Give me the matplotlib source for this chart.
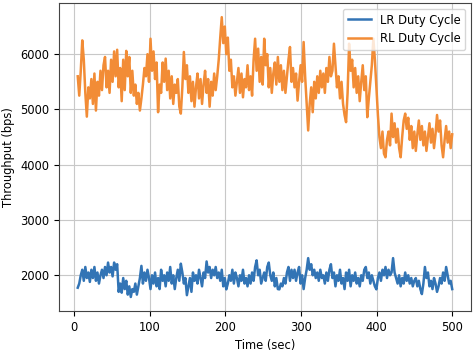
import numpy as np
import matplotlib
matplotlib.use("Agg")
import matplotlib.pyplot as plt

# throughput readings (bps), roughly every 2 seconds from t=5 to t=500
rl_duty = [5600, 5250, 5700, 6250, 5900, 5300, 4870, 5400,
           5200, 5550, 5100, 5650, 4980,
           5500, 5250, 5700, 5350, 5800,
           5950, 5400, 5700, 5300, 5900,
           5500, 6050, 5600, 6080, 5400,
           5750, 5150, 5900, 5350, 6060,
           5600, 5950, 5300, 5700, 5250,
           5450, 5100, 5300, 4980, 5200,
           5450, 5750, 5600, 6000, 5500,
           6280, 5700, 6050, 5550, 5850,
           4950, 5450, 5300, 5850, 5500,
           5920, 5350, 5700, 5200, 5600,
           5100, 5450, 5300, 5550, 5050,
           4925, 5400, 6040, 5550, 5800,
           5300, 5600, 5150, 5500, 5050,
           5400, 5650, 5200, 5550, 5100,
           5450, 5700, 5300, 5550, 5050,
           5500, 5250, 5650, 5350, 5600,
           5900, 6300, 6670, 6200, 6500,
           6000, 6300, 5700, 5900, 5400,
           5600, 5250, 5500, 5750, 5300,
           5650, 5220, 5550, 5400, 5800,
           5350, 5600, 5250, 5900, 6280,
           5700, 6100, 5500, 5950, 5450,
           6280, 5800, 6000, 5400, 5750,
           5300, 5650, 5850, 5450, 5950,
           5500, 5800, 5350, 5700, 5300,
           5600, 5900, 6130, 5500, 5750,
           5400, 5650, 5160, 5500, 5800,
           5500, 6220, 5600, 5100, 4620,
           5100, 5400, 4950, 5500, 5200,
           5600, 5300, 5700, 5400, 5650,
           5300, 5750, 5500, 5950, 5600,
           5700, 6190, 5800, 5400, 5600,
           5200, 5500, 5100, 4900, 4770,
           5300, 6190, 5700, 5900, 5400,
           5750, 5300, 5600, 5150, 5500,
           5800, 5350, 5600, 4860, 5200,
           5500, 5800, 6280, 5900, 5400,
           4900, 4500, 4300, 4600, 4200,
           4135, 4450, 4600, 4350, 4925,
           4500, 4750, 4400, 4650, 4300,
           4135, 4500, 4800, 4925, 4650,
           4850, 4450, 4700, 4300, 4600,
           4250, 4550, 4800, 4450, 4700,
           4350, 4600, 4250, 4500, 4750,
           4400, 4650, 4300, 4550, 4900,
           4600, 4800, 4350, 4135, 4450,
           4700, 4400, 4600, 4300, 4550]

lr_duty = [1775, 1850, 2000, 2100, 1900, 2150, 1950, 2050,
           1880, 2100, 1950, 2150, 1900,
           2050, 1850, 2000, 2100, 1950,
           2150, 2000, 2230, 2050, 2150,
           1980, 2230, 2100, 2200, 1700,
           1850, 1685, 1950, 1750, 1900,
           1650, 1800, 1607, 1750, 1700,
           1850, 1650, 1800, 1950, 2170,
           1850, 2050, 1900, 2100, 1950,
           1750, 2000, 1850, 2050, 1800,
           1950, 1750, 2100, 1900, 2000,
           1800, 2050, 1900, 2150, 1850,
           2000, 1750, 1950, 2100, 1900,
           2210, 2050, 1850, 1950, 1640,
           1800, 1950, 1700, 2050, 1900,
           2000, 1850, 2100, 1950, 1800,
           2050, 1950, 2250, 2050, 2150,
           1950, 2100, 2000, 2150, 1950,
           2050, 1900, 2100, 1800, 1950,
           1745, 1850, 2000, 1900, 2100,
           1850, 2050, 1950, 1800, 2000,
           1900, 2100, 1850, 1950, 1800,
           2000, 1850, 2050, 1900, 2150,
           2270, 2000, 2100, 1850, 1950,
           2050, 1900, 2150, 2230, 2000,
           1900, 2050, 1800, 1950, 1750,
           1745, 1850, 1800, 1950, 1850,
           2050, 2150, 1900, 2100, 1950,
           2100, 1900, 2050, 2150, 1850,
           2000, 1750, 1950, 2100, 2310,
           2100, 2200, 2000, 2100, 1950,
           2050, 1900, 2100, 1950, 2000,
           1850, 2050, 1900, 2100, 2200,
           1950, 2050, 1800, 2000, 1900,
           2100, 1850, 1950, 1750, 2050,
           1900, 2100, 1800, 2000, 1900,
           2050, 1850, 1950, 1800, 2000,
           1900, 2100, 2150, 1950, 2050,
           1850, 2000, 1900, 1800, 1745,
           1950, 2050, 1900, 2100, 2000,
           2150, 1950, 2100, 2000, 2050,
           2310, 2050, 1950, 1850, 2000,
           1800, 1950, 1850, 2050, 1900,
           2000, 1850, 1950, 1800, 1900,
           1950, 1800, 1900, 1750, 1660,
           1850, 2150, 1950, 2050, 1800,
           1900, 1750, 1950, 1850, 1700,
           1800, 1950, 1850, 2050, 1900,
           2150, 2000, 1850, 1900, 1750]

t_rl = np.linspace(5, 500, len(rl_duty))
t_lr = np.linspace(5, 500, len(lr_duty))

plt.rcParams['font.size'] = 8.3

fig = plt.figure(figsize=(4.74, 3.51), dpi=100)
ax = fig.add_axes([0.1245, 0.114, 0.869, 0.877])

ax.plot(t_lr, lr_duty, color='#3274b5', lw=1.8, label='LR Duty Cycle')
ax.plot(t_rl, rl_duty, color='#f28c36', lw=1.8, label='RL Duty Cycle')

ax.set_xticks([0, 100, 200, 300, 400, 500])
ax.set_yticks([2000, 3000, 4000, 5000, 6000])
ax.grid(True, color='#c8c8c8', lw=0.8)
for s in ax.spines.values():
    s.set_color('#444444')
ax.set_xlabel('Time (sec)')
ax.set_ylabel('Throughput (bps)')
ax.legend(loc='upper right')

fig.savefig('out.png', dpi=100)
